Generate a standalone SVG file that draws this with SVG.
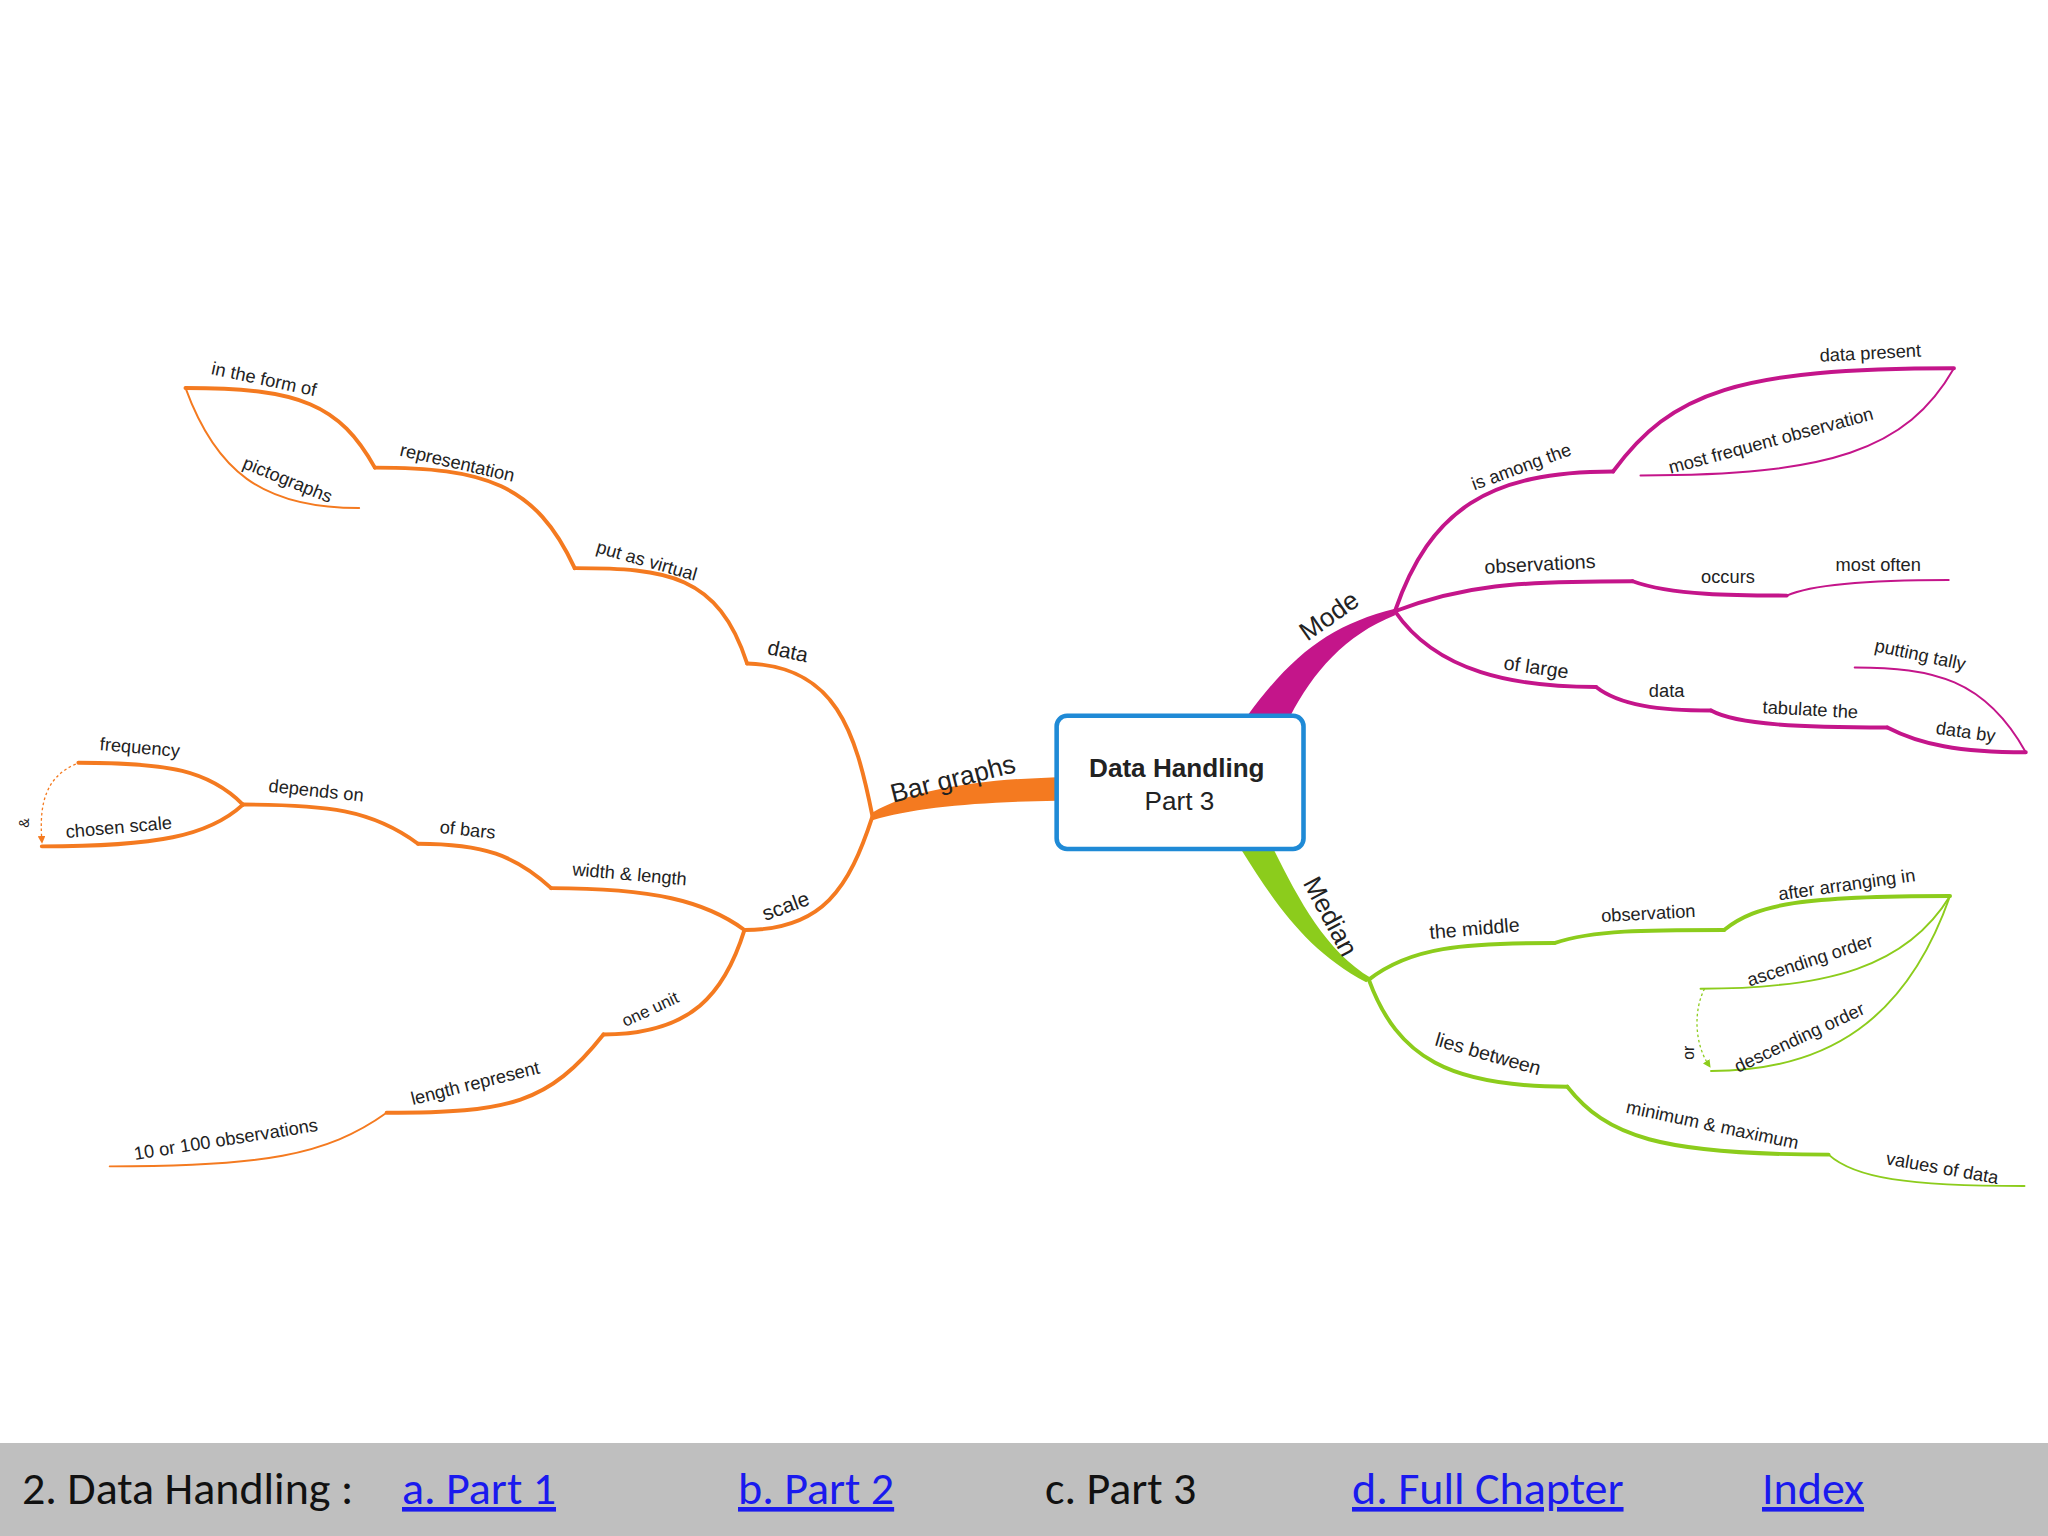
<svg xmlns="http://www.w3.org/2000/svg" width="2048" height="1536" viewBox="0 0 2048 1536">
<style>
text{font-family:"Liberation Sans",Arial,sans-serif;fill:#222}
.l{font-size:14px}
.o{fill:none;stroke:#f47a20;stroke-width:3;stroke-linecap:round}
.m{fill:none;stroke:#c4158a;stroke-width:3;stroke-linecap:round}
.g{fill:none;stroke:#8ccc1c;stroke-width:3;stroke-linecap:round}
.t{stroke-width:1.5}
.nav{font-family:Calibri,"Carlito","Liberation Sans",sans-serif;font-size:46px;fill:#111}
.lnk{fill:#1a1aee;text-decoration:underline}
</style>
<defs>
<marker id="ao" markerWidth="6" markerHeight="6" refX="3" refY="3" orient="auto"><path d="M0,0 L6,3 L0,6 Z" fill="#f47a20"/></marker>
<marker id="ag" markerWidth="6" markerHeight="6" refX="3" refY="3" orient="auto"><path d="M0,0 L6,3 L0,6 Z" fill="#8ccc1c"/></marker>
</defs>
<rect width="2048" height="1536" fill="#fff"/>
<g transform="scale(1.30612)">
<g id="connectors">
<path d="M809,595 C 750,597 700,604 668,622 L668,628 C 700,618 750,614 809,613 Z" fill="#f47a20"/>
<path d="M955,548 C 990,500 1020,478 1068,466 L1068,471 C 1030,486 1005,515 988,548 Z" fill="#c4158a"/>
<path d="M950,650 L975,650 C 995,690 1015,728 1050,749 L1046,752 C 1000,728 975,690 950,650 Z" fill="#8ccc1c"/>
<!-- orange -->
<path class="o" d="M668,625 C 655,560 640,510 572,508"/>
<path class="o" d="M572,508 C 550,440 510,435 440,435"/>
<path class="o" d="M440,435 C 410,370 370,358 287,358"/>
<path class="o" d="M287,358 C 260,310 230,297 142,297"/>
<path class="o t" d="M142,297 C 165,360 200,389 275,389"/>
<path class="o" d="M668,625 C 650,680 630,712 570,712"/>
<path class="o" d="M570,712 C 540,690 500,680 422,680"/>
<path class="o" d="M422,680 C 395,655 370,646 320,646"/>
<path class="o" d="M320,646 C 285,620 250,616 186,616"/>
<path class="o" d="M186,616 C 160,590 130,584 60,584"/>
<path class="o" d="M186,616 C 160,640 120,648 32,648"/>
<path class="o" d="M570,712 C 555,760 530,792 462,792"/>
<path class="o" d="M462,792 C 420,845 390,852 296,852"/>
<path class="o t" d="M296,852 C 250,885 200,893 84,893"/>
<path fill="none" stroke="#f47a20" stroke-width="1" stroke-dasharray="2,2" d="M58,585 C 35,595 30,615 32,643" marker-end="url(#ao)"/>
<!-- magenta -->
<path class="m" d="M1068,468 C 1095,390 1140,361 1235,361"/>
<path class="m" d="M1235,361 C 1280,300 1330,282 1496,282"/>
<path class="m t" d="M1496,282 C 1460,345 1400,364 1256,364"/>
<path class="m" d="M1068,468 C 1120,448 1160,445 1250,445"/>
<path class="m" d="M1250,445 C 1280,456 1330,456 1368,456"/>
<path class="m t" d="M1368,456 C 1390,446 1440,444 1492,444"/>
<path class="m" d="M1068,468 C 1100,515 1160,526 1222,526"/>
<path class="m" d="M1222,526 C 1240,540 1270,544 1310,544"/>
<path class="m" d="M1310,544 C 1330,555 1380,557 1445,557"/>
<path class="m" d="M1445,557 C 1470,570 1500,576 1551,576"/>
<path class="m t" d="M1551,576 C 1520,520 1480,511 1420,511"/>
<!-- green -->
<path class="g" d="M1048,750 C 1080,725 1120,722 1190,722"/>
<path class="g" d="M1190,722 C 1220,712 1260,712 1320,712"/>
<path class="g" d="M1320,712 C 1345,692 1380,686 1493,686"/>
<path class="g t" d="M1493,686 C 1460,740 1400,757 1302,757"/>
<path class="g t" d="M1493,686 C 1460,780 1400,820 1310,820"/>
<path fill="none" stroke="#8ccc1c" stroke-width="1" stroke-dasharray="2,2" d="M1305,757 C 1296,775 1298,800 1308,815" marker-end="url(#ag)"/>
<path class="g" d="M1048,750 C 1070,810 1110,832 1200,832"/>
<path class="g" d="M1200,832 C 1230,870 1270,884 1400,884"/>
<path class="g t" d="M1400,884 C 1420,902 1460,908 1550,908"/>
</g>
<g id="center">
<rect x="809" y="548" width="189" height="102" rx="8" fill="#fff" stroke="#1f8ad6" stroke-width="3.5"/>
<text x="901" y="595" text-anchor="middle" font-size="20" font-weight="bold">Data Handling</text>
<text x="903" y="620" text-anchor="middle" font-size="20">Part 3</text>
</g>
<g id="bar-graphs"><text x="730" y="603" text-anchor="middle" font-size="20" transform="rotate(-14 730 598)">Bar graphs</text></g>
<g id="labels-orange" class="l">
<text x="603" y="504" text-anchor="middle" font-size="16" transform="rotate(12 603 500)">data</text>
<text x="495" y="434" text-anchor="middle" transform="rotate(16 495 430)">put as virtual</text>
<text x="350" y="359" text-anchor="middle" transform="rotate(13 350 355)">representation</text>
<text x="202" y="295" text-anchor="middle" transform="rotate(12 202 291)">in the form of</text>
<text x="220" y="372" text-anchor="middle" transform="rotate(22 220 368)">pictographs</text>
<text x="602" y="699" text-anchor="middle" font-size="16" transform="rotate(-20 602 695)">scale</text>
<text x="482" y="674" text-anchor="middle" transform="rotate(5 482 670)">width &amp; length</text>
<text x="358" y="640" text-anchor="middle" transform="rotate(6 358 636)">of bars</text>
<text x="242" y="610" text-anchor="middle" transform="rotate(6 242 606)">depends on</text>
<text x="107" y="577" text-anchor="middle" transform="rotate(5 107 573)">frequency</text>
<text x="91" y="638" text-anchor="middle" transform="rotate(-5 91 634)">chosen scale</text>
<text x="18" y="634" text-anchor="middle" font-size="11" transform="rotate(-90 18 630)">&amp;</text>
<text x="498" y="777" text-anchor="middle" font-size="13" transform="rotate(-25 498 773)">one unit</text>
<text x="364" y="834" text-anchor="middle" transform="rotate(-14 364 830)">length represent</text>
<text x="173" y="877" text-anchor="middle" transform="rotate(-9 173 873)">10 or 100 observations</text>
</g>
<g id="mode"><text x="1018" y="478" text-anchor="middle" font-size="20" transform="rotate(-35 1018 472)">Mode</text></g>
<g id="labels-mode" class="l">
<text x="1165" y="362" text-anchor="middle" transform="rotate(-20 1165 358)">is among the</text>
<text x="1432" y="275" text-anchor="middle" transform="rotate(-3 1432 271)">data present</text>
<text x="1356" y="342" text-anchor="middle" transform="rotate(-15 1356 338)">most frequent observation</text>
<text x="1179" y="437" text-anchor="middle" font-size="15" transform="rotate(-3 1179 432)">observations</text>
<text x="1323" y="446" text-anchor="middle">occurs</text>
<text x="1438" y="437" text-anchor="middle">most often</text>
<text x="1176" y="516" text-anchor="middle" font-size="15" transform="rotate(8 1176 512)">of large</text>
<text x="1276" y="534" text-anchor="middle">data</text>
<text x="1386" y="548" text-anchor="middle" transform="rotate(3 1386 544)">tabulate the</text>
<text x="1505" y="565" text-anchor="middle" transform="rotate(8 1505 561)">data by</text>
<text x="1470" y="506" text-anchor="middle" transform="rotate(12 1470 502)">putting tally</text>
</g>
<g id="median"><text x="1018" y="708" text-anchor="middle" font-size="20" transform="rotate(62 1018 702)">Median</text></g>
<g id="labels-median" class="l">
<text x="1129" y="716" text-anchor="middle" font-size="15" transform="rotate(-5 1129 712)">the middle</text>
<text x="1262" y="704" text-anchor="middle" transform="rotate(-3 1262 700)">observation</text>
<text x="1414" y="682" text-anchor="middle" transform="rotate(-8 1414 678)">after arranging in</text>
<text x="1386" y="740" text-anchor="middle" transform="rotate(-18 1386 736)">ascending order</text>
<text x="1378" y="799" text-anchor="middle" transform="rotate(-25 1378 795)">descending order</text>
<text x="1293" y="810" text-anchor="middle" font-size="12" transform="rotate(-90 1293 806)">or</text>
<text x="1139" y="812" text-anchor="middle" font-size="15" transform="rotate(16 1139 808)">lies between</text>
<text x="1311" y="866" text-anchor="middle" transform="rotate(12 1311 862)">minimum &amp; maximum</text>
<text x="1487" y="899" text-anchor="middle" transform="rotate(10 1487 895)">values of data</text>
</g>
</g>
<g id="nav">
<rect x="0" y="1443" width="2048" height="93" fill="#bfbfbf"/>
<text class="nav" x="22" y="1504">2. Data Handling : </text>
<text class="nav lnk" x="402" y="1504">a. Part 1</text>
<text class="nav lnk" x="738" y="1504">b. Part 2</text>
<text class="nav" x="1045" y="1504">c. Part 3</text>
<text class="nav lnk" x="1352" y="1504">d. Full Chapter</text>
<text class="nav lnk" x="1762" y="1504">Index</text>
</g>
</svg>
